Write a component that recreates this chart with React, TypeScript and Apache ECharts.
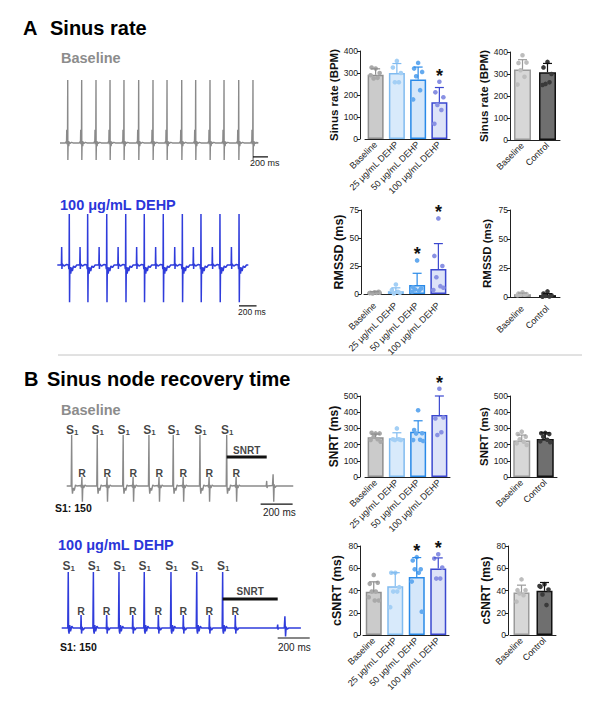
import React, { useEffect, useRef } from "react";
import * as echarts from "echarts";

const FONT = "'Liberation Sans', Arial, Helvetica, sans-serif";

// ---------------- bar chart data ----------------
const doseCategories = ["Baseline", "25 μg/mL DEHP", "50 μg/mL DEHP", "100 μg/mL DEHP"];
const controlCategories = ["Baseline", "Control"];

// Sinus rate (BPM)
const rateDoseMean = [292, 300, 270, 167];
const rateDoseSD = [27, 43, 57, 67];
const rateDoseDots = [
  [320, 325, 300, 275, 278, 290],
  [355, 325, 300, 258, 258],
  [346, 320, 305, 285, 222, 180],
  [260, 212, 190, 155, 132, 69],
];
const rateDoseStars = [3];
const rateCtrlMean = [320, 308];
const rateCtrlSD = [45, 40];
const rateCtrlDots = [
  [385, 350, 352, 317, 287, 252],
  [355, 330, 300, 255, 262, 250],
];

// RMSSD (ms)
const rmssdDoseMean = [1.2, 2.5, 8, 22.3];
const rmssdDoseSD = [0.8, 3, 10.5, 22.7];
const rmssdDoseDots = [
  [1.5, 1, 2, 0.5, 1, 0.8, 1.2],
  [8.5, 3.5, 1, 0.5, 2],
  [30, 6, 5, 4, 3, 2],
  [67.5, 34, 25, 15, 7, 3.6, 5.6],
];
const rmssdDoseStars = [2, 3];
const rmssdCtrlMean = [2.4, 1.6];
const rmssdCtrlSD = [1, 1.3];
const rmssdCtrlDots = [
  [4, 3, 2.5, 2, 2, 1.5],
  [4.8, 3, 1.5, 1, 0.5, 0.3],
];

// SNRT (ms)
const snrtDoseMean = [245, 239, 280, 382];
const snrtDoseSD = [20, 34, 67, 118];
const snrtDoseDots = [
  [269, 273, 269, 249, 233, 229, 218],
  [300, 233, 229, 229, 233],
  [412, 290, 270, 268, 230, 228, 222],
  [545, 361, 367, 259, 276],
];
const snrtDoseStars = [3];
const snrtCtrlMean = [225, 235];
const snrtCtrlSD = [34, 38];
const snrtCtrlDots = [
  [280, 265, 249, 233, 218, 208, 198],
  [272, 270, 265, 248, 230, 220, 215],
];

// cSNRT (ms)
const csnrtDoseMean = [38.8, 43.9, 52.2, 59.7];
const csnrtDoseSD = [9, 12.1, 17.4, 9.6];
const csnrtDoseDots = [
  [54, 46, 47, 39, 39, 34, 31, 31],
  [56, 56, 43, 39, 39, 25],
  [70, 67, 59, 59, 56, 48, 21],
  [72.5, 68.7, 60.6, 50.7, 50.7],
];
const csnrtDoseStars = [2, 3];
const csnrtCtrlMean = [38.2, 39.7];
const csnrtCtrlSD = [6.6, 7.5];
const csnrtCtrlDots = [
  [50, 40.3, 40.3, 37.3, 35.8, 30],
  [45.7, 43.3, 40.9, 36.4, 26.9, 44],
];

// ---------------- ECG trace data (time in ms, amplitude normalised) ----------------
// A: sinus rhythm
const rateBaseBeatTimes = [103, 289, 480, 667, 853, 1049, 1240, 1427, 1623, 1809, 2000, 2187, 2383, 2573];
const rateBaseBeatShape = [
  [-30, 0], [-20, 0.02], [-16, 0], [-13, 0.21], [-11, -0.02], [-7, 0.02], [-3, -0.02],
  [0, 1.0], [2, -0.27], [5, -0.03], [9, 0.03], [14, -0.05], [20, 0.02], [30, -0.01], [50, 0.01], [70, 0],
];
const rateBaseEnd = 2585;
const rateDehpBeatTimes = [137, 347, 565, 782, 994, 1211, 1429, 1642, 1859, 2077];
const rateDehpBeatShape = [
  [-100, 0], [-90, 0.01], [-87, 0.35], [-84, -0.08], [-80, 0.02], [-60, -0.02], [-30, 0.01], [-10, 0],
  [-5, -0.08], [-2, 0.03], [0, 1.0], [3, -0.73], [6, -0.1], [11, -0.04], [17, -0.17], [25, -0.05],
  [35, -0.12], [48, -0.02], [65, -0.05], [85, 0],
];
const rateDehpEnd = 2183;

// B: overdrive pacing (S1 = 150 ms) and recovery
const snrtBaseS1 = [31, 191, 353, 514, 666, 833, 1000];
const snrtBaseR = [96, 253, 416, 578, 729, 891, 1060];
const snrtBaseEscape = [1250, 1292];
const snrtBaseEnd = 1416;
const snrtDehpS1 = [41, 198, 358, 516, 683, 844, 1006];
const snrtDehpR = [121, 281, 444, 604, 760, 923, 1085];
const snrtDehpEscape = [1350, 1396];
const snrtDehpEnd = 1495;

const baseS1Shape = [[-3, 0], [0, 1], [2, -0.02], [5, -0.15], [10, -0.04], [16, -0.09], [24, 0.02], [32, 0]];
const baseRShape = [[-8, 0.01], [-4, -0.03], [-1, 0.18], [2, -0.31], [5, 0.02], [10, -0.04], [18, 0.02], [26, 0]];
const baseBlipShape = [[-3, 0], [0, 0.1], [2, -0.04], [5, 0]];
const baseEscapeShape = [[-6, 0.01], [-2, 0.23], [2, -0.31], [5, 0.03], [10, -0.03], [18, 0]];
const dehpS1Shape = [[-3, 0], [0, 1], [2, -0.05], [5, -0.1], [9, 0.05], [14, -0.06], [22, 0.03], [30, 0]];
const dehpRShape = [[-6, 0], [-2, -0.02], [0, 0.23], [3, -0.1], [7, 0.02], [13, -0.04], [22, 0]];
const dehpBlipShape = [[-3, 0], [0, 0.06], [2, -0.03], [5, 0]];
const dehpEscapeShape = [[-5, 0], [-1, 0.21], [3, -0.15], [7, 0.02], [14, -0.02], [24, 0]];

const SCALE_MS = 200;

// ---------------- styles ----------------
const doseStyles = [
  { fill: "#cbcbcb", stroke: "#8e8e8e", dot: "#a9a9a9" },
  { fill: "#d8eafb", stroke: "#80bbf0", dot: "#a3cff5" },
  { fill: "#d5e7fa", stroke: "#2a8ae8", dot: "#64aaef" },
  { fill: "#dde3f8", stroke: "#3b48cf", dot: "#8991e3" },
];
const controlStyles = [
  { fill: "#d7d7d7", stroke: "#9a9a9a", dot: "#bdbdbd" },
  { fill: "#6f6f6f", stroke: "#111111", dot: "#3a3a3a" },
];
const GRAY_TRACE = "#8a8a8a";
const BLUE_TRACE = "#2f3cdb";
const JITTER = [0, -4, 4, -2, 2, -5, 5, 1];

type Ev = [number, number[][]];
function buildTrace(end: number, events: Ev[]) {
  const pts: number[][] = [[0, 0]];
  const evs = events.slice().sort((a, b) => a[0] - b[0]);
  for (const [t, shape] of evs) for (const [dt, v] of shape) pts.push([t + dt, v]);
  pts.push([end, 0]);
  return pts;
}

function barPanel(gi: number, p: any) {
  const styles = p.styles;
  const dotData: number[][] = [];
  p.dots.forEach((arr: number[], i: number) => arr.forEach((v, k) => dotData.push([i, v, k])));
  const errData = p.means.map((m: number, i: number) => [i, m, p.sds[i]]);
  const starData = p.stars.map((i: number) => [i, Math.max(p.means[i] + p.sds[i], ...p.dots[i])]);
  const ax = { xAxisIndex: gi, yAxisIndex: gi };
  return {
    grid: { left: p.left, top: p.top, width: p.width, height: p.height, containLabel: false, outerBoundsMode: "none" },
    xAxis: {
      type: "category", gridIndex: gi, data: p.cats, offset: p.xOffset || 0,
      axisLine: { show: true, lineStyle: { color: "#222", width: 1 } },
      axisTick: { show: false },
      axisLabel: { rotate: 45, fontSize: 9, interval: 0, margin: 4, color: "#222", fontFamily: FONT },
      splitLine: { show: false },
    },
    yAxis: {
      type: "value", gridIndex: gi, min: 0, max: p.max, interval: p.interval, offset: p.yOffset || 0,
      name: p.name, nameLocation: "middle", nameGap: p.nameGap,
      nameTextStyle: { fontSize: p.nameSize, fontWeight: "bold", color: "#111", fontFamily: FONT },
      axisLine: { show: true, lineStyle: { color: "#222", width: 1 } },
      axisTick: { show: true, length: 3, lineStyle: { color: "#222" } },
      axisLabel: { fontSize: 8.5, margin: 2, color: "#222", fontFamily: FONT },
      splitLine: { show: false },
    },
    series: [
      {
        type: "bar", ...ax, barWidth: p.barWidth, silent: true, z: 2,
        data: p.means.map((m: number, i: number) => ({
          value: m,
          itemStyle: { color: styles[i].fill, borderColor: styles[i].stroke, borderWidth: 1.5 },
        })),
      },
      {
        type: "custom", ...ax, silent: true, z: 3, data: dotData, encode: { x: 0, y: 1 },
        renderItem: (params: any, api: any) => {
          const cat = api.value(0);
          const c = api.coord([cat, api.value(1)]);
          const k = api.value(2);
          return {
            type: "circle",
            shape: { cx: c[0] + JITTER[k % JITTER.length], cy: c[1], r: 2.3 },
            style: { fill: styles[cat].dot },
          };
        },
      },
      {
        type: "custom", ...ax, silent: true, z: 4, data: errData, encode: { x: 0, y: 1 },
        renderItem: (params: any, api: any) => {
          const cat = api.value(0);
          const m = api.value(1);
          const sd = api.value(2);
          const a = api.coord([cat, m]);
          const b = api.coord([cat, m + sd]);
          const col = styles[cat].stroke;
          return {
            type: "group",
            children: [
              { type: "line", shape: { x1: a[0], y1: a[1], x2: b[0], y2: b[1] }, style: { stroke: col, lineWidth: 1.2 } },
              { type: "line", shape: { x1: b[0] - 4.5, y1: b[1], x2: b[0] + 4.5, y2: b[1] }, style: { stroke: col, lineWidth: 1.2 } },
            ],
          };
        },
      },
      {
        type: "custom", ...ax, silent: true, z: 5, data: starData, encode: { x: 0, y: 1 },
        renderItem: (params: any, api: any) => {
          const c = api.coord([api.value(0), api.value(1)]);
          return {
            type: "text",
            x: c[0], y: c[1] - 6,
            style: {
              text: "*", fontSize: 18, fontWeight: "bold", fontFamily: FONT, fill: "#111",
              textAlign: "center", textVerticalAlign: "middle", align: "center", verticalAlign: "middle",
            },
          };
        },
      },
    ],
  };
}

function traceAxes(gi: number, grid: any, xMax: number, yMin: number, yMax: number) {
  return {
    grid: { ...grid, containLabel: false, outerBoundsMode: "none" },
    xAxis: { type: "value", gridIndex: gi, min: 0, max: xMax, show: false },
    yAxis: { type: "value", gridIndex: gi, min: yMin, max: yMax, show: false },
  };
}

function lineSeries(gi: number, data: number[][], color: string, width: number) {
  return {
    type: "line", xAxisIndex: gi, yAxisIndex: gi, data, symbol: "none", showSymbol: false,
    lineStyle: { color, width }, silent: true, z: 2, emphasis: { disabled: true },
  };
}

function labelSeries(gi: number, data: number[][], formatter: string, rich: any) {
  return {
    type: "scatter", xAxisIndex: gi, yAxisIndex: gi, data, symbolSize: 1, silent: true, z: 6,
    itemStyle: { color: "rgba(0,0,0,0)" },
    label: { show: true, position: "inside", formatter, rich, color: "#111", fontFamily: FONT },
  };
}

const s1Rich = {
  s: { fontSize: 12, fontWeight: "bold", color: "#111", fontFamily: FONT },
  n: { fontSize: 8, fontWeight: "bold", color: "#111", fontFamily: FONT, verticalAlign: "bottom", padding: [6, 0, 0, 0] },
};
const rRich = { r: { fontSize: 10.5, fontWeight: "bold", color: "#111", fontFamily: FONT } };
const snrtRich = { t: { fontSize: 10, fontWeight: "bold", color: "#111", fontFamily: FONT } };

function txt(x: number, y: number, text: string, size: number, color: string, bold = true, align = "left") {
  return {
    type: "text", x, y, silent: true,
    style: {
      text, fontSize: size, fontWeight: bold ? "bold" : "normal", fontFamily: FONT, fill: color,
      textAlign: align, textVerticalAlign: "middle", align, verticalAlign: "middle",
    },
  };
}

function buildOption() {
  const grids: any[] = [];
  const xAxes: any[] = [];
  const yAxes: any[] = [];
  const series: any[] = [];
  const add = (o: any) => { grids.push(o.grid); xAxes.push(o.xAxis); yAxes.push(o.yAxis); if (o.series) series.push(...o.series); };

  // 0: A baseline trace (0.075 px/ms, baseline y=143, 63 px / unit)
  add(traceAxes(0, { left: 60, top: 75, width: 210, height: 90 }, 2800, -0.35, 1.079));
  series.push(lineSeries(0, buildTrace(rateBaseEnd, rateBaseBeatTimes.map((t) => [t, rateBaseBeatShape] as Ev)), GRAY_TRACE, 1.4));
  series.push(lineSeries(0, [[rateBaseEnd - 12, -0.22], [rateBaseEnd - 12 + SCALE_MS, -0.22]], "#111", 1.2));

  // 1: A DEHP trace (0.0875 px/ms, baseline y=265, 51 px / unit)
  add(traceAxes(1, { left: 57.3, top: 205, width: 201.25, height: 107 }, 2300, -0.922, 1.176));
  series.push(lineSeries(1, buildTrace(rateDehpEnd, rateDehpBeatTimes.map((t) => [t, rateDehpBeatShape] as Ev)), BLUE_TRACE, 1.5));
  series.push(lineSeries(1, [[2077, -0.8], [2077 + SCALE_MS, -0.8]], "#111", 1.2));

  // 2: B baseline trace (0.16 px/ms, baseline y=486, 51 px / unit)
  add(traceAxes(2, { left: 66.7, top: 425, width: 228.8, height: 85 }, 1430, -0.47, 1.196));
  const bEv: Ev[] = [
    ...snrtBaseS1.map((t) => [t, baseS1Shape] as Ev),
    ...snrtBaseR.map((t) => [t, baseRShape] as Ev),
    [snrtBaseEscape[0], baseBlipShape],
    [snrtBaseEscape[1], baseEscapeShape],
  ];
  series.push(lineSeries(2, buildTrace(snrtBaseEnd, bEv), GRAY_TRACE, 1.4));
  series.push(lineSeries(2, [[snrtBaseEnd - 204, -0.353], [snrtBaseEnd - 204 + SCALE_MS, -0.353]], "#111", 1.2));
  const bWin = [snrtBaseS1[snrtBaseS1.length - 1], snrtBaseEscape[0]];
  series.push(lineSeries(2, [[bWin[0], 0.57], [bWin[1], 0.57]], "#111", 3));
  series.push(labelSeries(2, snrtBaseS1.map((t) => [t + 3, 1.1]), "{s|S}{n|1}", s1Rich));
  series.push(labelSeries(2, snrtBaseR.map((t) => [t, 0.26]), "{r|R}", rRich));
  series.push(labelSeries(2, [[(bWin[0] + bWin[1]) / 2, 0.69]], "{t|SNRT}", snrtRich));

  // 3: B DEHP trace (0.16 px/ms, baseline y=628, 56 px / unit)
  add(traceAxes(3, { left: 61.7, top: 560, width: 249.6, height: 85 }, 1560, -0.304, 1.214));
  const dEv: Ev[] = [
    ...snrtDehpS1.map((t) => [t, dehpS1Shape] as Ev),
    ...snrtDehpR.map((t) => [t, dehpRShape] as Ev),
    [snrtDehpEscape[0], dehpBlipShape],
    [snrtDehpEscape[1], dehpEscapeShape],
  ];
  series.push(lineSeries(3, buildTrace(snrtDehpEnd, dEv), BLUE_TRACE, 1.5));
  series.push(lineSeries(3, [[1350, -0.179], [1350 + SCALE_MS, -0.179]], "#111", 1.2));
  const dWin = [snrtDehpS1[snrtDehpS1.length - 1], snrtDehpEscape[0]];
  series.push(lineSeries(3, [[dWin[0], 0.518], [dWin[1], 0.518]], "#111", 3));
  series.push(labelSeries(3, snrtDehpS1.map((t) => [t + 3, 1.107]), "{s|S}{n|1}", s1Rich));
  series.push(labelSeries(3, snrtDehpR.map((t) => [t, 0.3]), "{r|R}", rRich));
  series.push(labelSeries(3, [[(dWin[0] + dWin[1]) / 2, 0.66]], "{t|SNRT}", snrtRich));

  // bar panels
  add(barPanel(4, { left: 365, top: 51, width: 85, height: 88, yOffset: 5, max: 400, interval: 100, name: "Sinus rate (BPM)", nameSize: 11.5, nameGap: 18, cats: doseCategories, means: rateDoseMean, sds: rateDoseSD, dots: rateDoseDots, stars: rateDoseStars, styles: doseStyles, barWidth: 16 }));
  add(barPanel(5, { left: 510, top: 52, width: 50, height: 88, max: 400, interval: 100, name: "Sinus rate (BPM)", nameSize: 11.5, nameGap: 20, cats: controlCategories, means: rateCtrlMean, sds: rateCtrlSD, dots: rateCtrlDots, stars: [], styles: controlStyles, barWidth: 17 }));
  add(barPanel(6, { left: 364, top: 210, width: 85, height: 84, yOffset: 3, xOffset: 6, max: 75, interval: 25, name: "RMSSD (ms)", nameSize: 12.5, nameGap: 15, cats: doseCategories, means: rmssdDoseMean, sds: rmssdDoseSD, dots: rmssdDoseDots, stars: rmssdDoseStars, styles: doseStyles, barWidth: 16 }));
  add(barPanel(7, { left: 510, top: 210, width: 50, height: 87, xOffset: 6, max: 75, interval: 25, name: "RMSSD (ms)", nameSize: 11.5, nameGap: 17, cats: controlCategories, means: rmssdCtrlMean, sds: rmssdCtrlSD, dots: rmssdCtrlDots, stars: [], styles: controlStyles, barWidth: 17 }));
  add(barPanel(8, { left: 365, top: 396, width: 85, height: 81, yOffset: 5, max: 500, interval: 100, name: "SNRT (ms)", nameSize: 12, nameGap: 18, cats: doseCategories, means: snrtDoseMean, sds: snrtDoseSD, dots: snrtDoseDots, stars: snrtDoseStars, styles: doseStyles, barWidth: 16 }));
  add(barPanel(9, { left: 510, top: 396, width: 47, height: 81, max: 500, interval: 100, name: "SNRT (ms)", nameSize: 11.5, nameGap: 20, cats: controlCategories, means: snrtCtrlMean, sds: snrtCtrlSD, dots: snrtCtrlDots, stars: [], styles: controlStyles, barWidth: 17 }));
  add(barPanel(10, { left: 363, top: 546, width: 86, height: 89, yOffset: 3, max: 80, interval: 20, name: "cSNRT (ms)", nameSize: 12.5, nameGap: 17, cats: doseCategories, means: csnrtDoseMean, sds: csnrtDoseSD, dots: csnrtDoseDots, stars: csnrtDoseStars, styles: doseStyles, barWidth: 16 }));
  add(barPanel(11, { left: 510, top: 546, width: 46, height: 89, yOffset: 2, max: 80, interval: 20, name: "cSNRT (ms)", nameSize: 12, nameGap: 16, cats: controlCategories, means: csnrtCtrlMean, sds: csnrtCtrlSD, dots: csnrtCtrlDots, stars: [], styles: controlStyles, barWidth: 16 }));

  const graphics = [
    txt(23, 28, "A", 20, "#000"),
    txt(50, 28, "Sinus rate", 20, "#000"),
    txt(24, 379, "B", 20, "#000"),
    txt(47, 379, "Sinus node recovery time", 20, "#000"),
    txt(61, 58, "Baseline", 14.5, "#8c8c8c"),
    txt(60, 205, "100 μg/mL DEHP", 14.5, "#2b36d9"),
    txt(61, 410, "Baseline", 14.5, "#8c8c8c"),
    txt(58, 545, "100 μg/mL DEHP", 14.5, "#2b36d9"),
    txt(250, 163, "200 ms", 9, "#222", false),
    txt(238, 312, "200 ms", 8.5, "#222", false),
    txt(263, 512, "200 ms", 10, "#222", false),
    txt(278, 647, "200 ms", 10, "#222", false),
    txt(55, 508, "S1: 150", 10.5, "#111"),
    txt(60, 647, "S1: 150", 10.5, "#111"),
    {
      type: "line", silent: true,
      shape: { x1: 58, y1: 355, x2: 582, y2: 355 },
      style: { stroke: "#c4c4c4", lineWidth: 1 },
    },
  ];

  return {
    animation: false,
    backgroundColor: "#ffffff",
    textStyle: { fontFamily: FONT },
    grid: grids,
    xAxis: xAxes,
    yAxis: yAxes,
    series,
    graphic: { elements: graphics },
  };
}

export default function App() {
  const ref = useRef<HTMLDivElement>(null);
  useEffect(() => {
    if (!ref.current) return;
    const chart = echarts.init(ref.current, null, { renderer: "svg" });
    chart.setOption(buildOption() as any);
    return () => chart.dispose();
  }, []);
  return (
    <div
      ref={ref}
      style={{ position: "fixed", left: 0, top: 0, width: 600, height: 707, background: "#fff" }}
    />
  );
}
